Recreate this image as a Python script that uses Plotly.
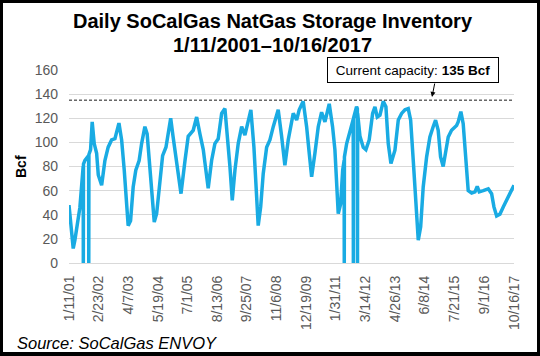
import plotly.graph_objects as go

# ---------------- data ----------------
dates = [
    "2001-01-11", "2001-03-10", "2001-04-02", "2001-05-05", "2001-06-10",
    "2001-07-25", "2001-07-27", "2001-07-29", "2001-08-18", "2001-10-08",
    "2001-10-10", "2001-10-12", "2001-11-04", "2001-11-26", "2001-12-24",
    "2002-01-26", "2002-02-18", "2002-04-05", "2002-05-20", "2002-07-04",
    "2002-08-20", "2002-10-05", "2002-11-29", "2003-01-05", "2003-02-10",
    "2003-03-14", "2003-04-05", "2003-05-08", "2003-06-13", "2003-07-19",
    "2003-09-03", "2003-10-07", "2003-11-21", "2003-12-22", "2004-01-29",
    "2004-03-07", "2004-03-29", "2004-05-01", "2004-06-16", "2004-07-22",
    "2004-09-06", "2004-10-08", "2004-11-10", "2004-12-12", "2005-02-01",
    "2005-03-18", "2005-04-01", "2005-05-26", "2005-07-09", "2005-09-16",
    "2005-11-02", "2005-12-17", "2006-02-01", "2006-03-09", "2006-04-10",
    "2006-05-27", "2006-07-11", "2006-08-26", "2006-10-12", "2006-11-26",
    "2006-12-28", "2007-02-03", "2007-03-07", "2007-04-13", "2007-05-28",
    "2007-07-14", "2007-08-28", "2007-10-12", "2007-11-18", "2007-12-30",
    "2008-01-26", "2008-02-27", "2008-04-01", "2008-05-06", "2008-06-22",
    "2008-08-06", "2008-09-21", "2008-11-28", "2009-01-14", "2009-02-28",
    "2009-04-15", "2009-06-23", "2009-08-09", "2009-09-13", "2009-11-07",
    "2009-12-24", "2010-01-29", "2010-03-03", "2010-04-17", "2010-06-02",
    "2010-07-18", "2010-09-02", "2010-10-31", "2010-12-16", "2011-01-17",
    "2011-02-18", "2011-03-04", "2011-04-06", "2011-05-04", "2011-05-24",
    "2011-05-26", "2011-05-28", "2011-06-28", "2011-08-12", "2011-09-26",
    "2011-09-28", "2011-09-30", "2011-11-11", "2011-11-22", "2011-11-24",
    "2011-11-26", "2011-12-28", "2012-02-11", "2012-03-19", "2012-05-03",
    "2012-06-19", "2012-07-21", "2012-08-22", "2012-09-28", "2012-11-12",
    "2012-12-19", "2013-01-20", "2013-02-26", "2013-04-22", "2013-06-07",
    "2013-07-23", "2013-09-07", "2013-10-22", "2013-11-24", "2013-12-30",
    "2014-01-23", "2014-02-15", "2014-03-09", "2014-04-11", "2014-05-16",
    "2014-07-02", "2014-08-16", "2014-09-30", "2014-11-02", "2014-12-08",
    "2015-01-10", "2015-02-15", "2015-03-20", "2015-04-25", "2015-06-10",
    "2015-08-18", "2015-09-09", "2015-10-16", "2015-11-17", "2015-12-24",
    "2016-01-25", "2016-03-12", "2016-04-27", "2016-05-28", "2016-06-25",
    "2016-08-19", "2016-10-27", "2016-12-12", "2017-01-13", "2017-02-19",
    "2017-04-05", "2017-05-21", "2017-07-07", "2017-08-21", "2017-10-16",
]
inventory_bcf = [
    48, 12, 19, 30, 46,
    80, 0, 82, 85, 89,
    0, 90, 94, 117, 99,
    91, 73, 64.5, 85, 96,
    102, 103, 116, 102, 77,
    52, 31, 35, 63, 77,
    85, 99, 113, 107, 80,
    52, 34, 41, 71, 89,
    96, 107, 120, 105, 82,
    59, 57.5, 85, 105, 110,
    121, 107, 94, 77, 62,
    85, 99, 103, 124, 128,
    107, 80, 52, 77, 99,
    113, 106, 118.5, 127, 96,
    63, 31, 46.5, 74, 96,
    102, 113, 127, 105, 81,
    102, 124, 118.5, 127, 134,
    113, 91, 71.5, 91, 113,
    125, 117, 132, 113, 94,
    57.5, 41, 49, 77, 85,
    0, 88, 99, 110, 119,
    0, 120, 129.5, 128, 0,
    124, 105, 96, 94, 102,
    124, 129.5, 121, 122.5, 134,
    129.5, 99, 82.5, 93.5, 118.5,
    124, 127, 128, 118.5, 85,
    57.5, 32.5, 19, 30, 63,
    88, 104.5, 113, 118.5, 110,
    88, 80, 91, 104.5, 110,
    114, 117, 125.5, 115.5, 85,
    60, 58, 59, 63.5, 59,
    60, 61.5, 57.5, 46.5, 39,
    40.5, 46.5, 52, 57.5, 64.5,
]
tick_dates = [
    "2001-01-11", "2002-02-23", "2003-04-07", "2004-05-19", "2005-07-01",
    "2006-08-13", "2007-09-25", "2008-11-06", "2009-12-19", "2011-01-31",
    "2012-03-14", "2013-04-26", "2014-06-08", "2015-07-21", "2016-09-01",
    "2017-10-16",
]
tick_labels = [
    "1/11/01", "2/23/02", "4/7/03", "5/19/04", "7/1/05", "8/13/06",
    "9/25/07", "11/6/08", "12/19/09", "1/31/11", "3/14/12", "4/26/13",
    "6/8/14", "7/21/15", "9/1/16", "10/16/17",
]
y_ticks = [0, 20, 40, 60, 80, 100, 120, 140, 160]
capacity_bcf = 135

# ---------------- layout geometry ----------------
W, H = 540, 356
ML, MR, MT, MB = 69, 26, 70, 93
PW, PH = W - ML - MR, H - MT - MB


def px(x):
    return (x - ML) / PW


def py(y):
    return (H - MB - y) / PH


FONT = "Liberation Sans, Arial, sans-serif"
GRAY = "#595959"

fig = go.Figure()
fig.add_trace(go.Scatter(
    x=dates, y=inventory_bcf, mode="lines",
    line=dict(color="#19ABE3", width=3.5),
    hoverinfo="skip", showlegend=False, cliponaxis=True,
))

fig.update_layout(
    width=W, height=H,
    margin=dict(l=ML, r=MR, t=MT, b=MB, pad=0),
    paper_bgcolor="black",
    plot_bgcolor="white",
    font=dict(family=FONT, color=GRAY),
    showlegend=False,
    xaxis=dict(
        type="date",
        range=[dates[0], dates[-1]],
        tickmode="array", tickvals=tick_dates, ticktext=tick_labels,
        tickangle=-90, tickfont=dict(size=14, color=GRAY, family=FONT),
        showgrid=False, zeroline=False,
        showline=True, linecolor="#D9D9D9", linewidth=1,
        ticks="", ticklabelstandoff=6,
    ),
    yaxis=dict(
        range=[0, 160],
        tickmode="array", tickvals=y_ticks,
        tickfont=dict(size=14, color=GRAY, family=FONT),
        showgrid=True, gridcolor="#D9D9D9", gridwidth=1,
        zeroline=False, showline=False, ticks="",
        ticklabelstandoff=10,
    ),
    shapes=[
        # white card inside the black frame
        dict(type="rect", xref="paper", yref="paper",
             x0=px(3), x1=px(537), y0=py(352), y1=py(3),
             fillcolor="white", line=dict(width=0), layer="below"),
        # capacity line
        dict(type="line", xref="paper", yref="y",
             x0=0, x1=1, y0=capacity_bcf, y1=capacity_bcf,
             line=dict(color="#1a1a1a", width=1, dash="3px,2px"), layer="above"),
    ],
    annotations=[
        dict(text="Daily SoCalGas NatGas Storage Inventory",
             xref="paper", yref="paper", x=px(273), y=py(21),
             xanchor="center", yanchor="middle", showarrow=False,
             font=dict(size=20, color="black", family=FONT, weight="bold")),
        dict(text="1/11/2001\u201310/16/2017",
             xref="paper", yref="paper", x=px(272), y=py(45),
             xanchor="center", yanchor="middle", showarrow=False,
             font=dict(size=20, color="black", family=FONT, weight="bold")),
        dict(text="Bcf", xref="paper", yref="paper", x=px(21), y=py(167),
             xanchor="center", yanchor="middle", showarrow=False, textangle=-90,
             font=dict(size=14, color="black", family=FONT, weight="bold")),
        dict(text="Source: SoCalGas ENVOY", xref="paper", yref="paper",
             x=px(15), y=py(343), xanchor="left", yanchor="middle",
             showarrow=False,
             font=dict(size=16.5, color="black", family=FONT, style="italic")),
        dict(text="Current capacity: <b>%d Bcf</b>" % capacity_bcf,
             xref="paper", yref="paper", x=px(413), y=py(70),
             xanchor="center", yanchor="middle", showarrow=False,
             font=dict(size=13.5, color="black", family=FONT),
             bgcolor="white", bordercolor="black", borderwidth=1,
             width=166, height=20, borderpad=2),
        dict(text="", xref="paper", yref="paper", x=px(432), y=py(97),
             ax=3, ay=-15, showarrow=True, arrowhead=2, arrowsize=1,
             arrowwidth=1, arrowcolor="black"),
    ],
)

fig.write_html(
    "out.html",
    config={"displayModeBar": False, "staticPlot": True},
    post_script="document.body.style.margin='0';document.body.style.overflow='hidden';",
)
